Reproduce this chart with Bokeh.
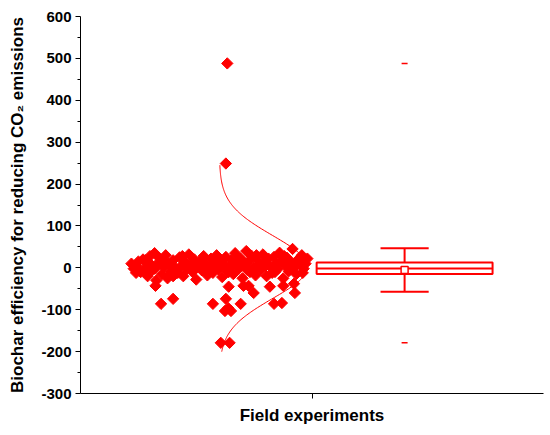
import numpy as np
from bokeh.plotting import figure
from bokeh.models import Range1d, FixedTicker
from bokeh.embed import file_html
from bokeh.resources import INLINE

categories = ["Field experiments"]
y_label = "Biochar efficiency for reducing CO\u2082 emissions"
y_ticks = [-300, -200, -100, 0, 100, 200, 300, 400, 500, 600]

# jittered data points (x = jitter position, y = efficiency %)
pts_x = [0.610, 0.615, 0.620, 0.625, 0.630, 0.635, 0.640, 0.645, 0.650, 0.652,
         0.656, 0.660, 0.664, 0.668, 0.672, 0.676, 0.680, 0.684, 0.688, 0.690,
         0.695, 0.700, 0.705, 0.710, 0.714, 0.718, 0.722, 0.726, 0.730, 0.734,
         0.738, 0.742, 0.746, 0.750, 0.754, 0.758, 0.762, 0.766, 0.770, 0.774,
         0.778, 0.782, 0.786, 0.790, 0.794, 0.798, 0.802, 0.806, 0.810, 0.814,
         0.818, 0.822, 0.826, 0.830, 0.834, 0.838, 0.842, 0.846, 0.850, 0.854,
         0.858, 0.862, 0.866, 0.870, 0.874, 0.878, 0.882, 0.886, 0.890, 0.894,
         0.898, 0.902, 0.906, 0.910, 0.914, 0.918, 0.922, 0.926, 0.930, 0.934,
         0.938, 0.942, 0.946, 0.950, 0.954, 0.958, 0.962, 0.966, 0.970, 0.974,
         0.978, 0.982, 0.986, 0.990,
         0.620, 0.640, 0.660, 0.680, 0.700, 0.720, 0.740, 0.760, 0.780, 0.800,
         0.820, 0.840, 0.860, 0.880, 0.900, 0.920, 0.940, 0.960, 0.980,
         0.674, 0.700, 0.786, 0.814, 0.819, 0.812, 0.825, 0.846, 0.820, 0.863,
         0.874, 0.909, 0.918, 0.935, 0.961, 0.963, 0.662, 0.852, 0.938,
         0.803, 0.822, 0.814, 0.817]
pts_y = [10, -2, 5, 15, -10, 20, 0, -20, 28, 8,
         -5, 35, -30, 12, 22, -15, 2, 30, -25, 10,
         -8, 18, 0, -12, 25, 5, -20, 12, -3, 32,
         8, -10, 20, -28, 3, 15, -6, 28, 10, -18,
         0, 22, -12, 6, 30, -4, 14, -22, 8, 26,
         -8, 2, 18, -15, 35, 10, -2, 22, -25, 5,
         40, 14, -10, 28, 0, -18, 18, 8, -5, 32,
         12, -20, 22, 3, -12, 26, 10, -3, 36, 16,
         -25, 6, 24, -8, 14, 45, 2, -15, 20, 8,
         30, -2, 10, 22,
         -12, 18, -2, 14, -20, 28, -2, 8, -8, 20,
         -10, 12, -5, 30, 5, -10, 28, 0, -12,
         -86, -74, -86, -74, -96, -103, -103, -86, -45, -43,
         -60, -45, -86, -84, -38, -60, -43, -43, -43,
         -179, -179, 249, 488]

# box chart statistics
box_pos = 1.2
box_halfwidth = 0.19
cap_halfwidth = 0.052
q1, median, q3 = -15, -1.5, 12.7
whisker_low, whisker_high = -57, 47
mean_val = -5
p1, p99 = -179, 488

# normal distribution curve parameters
curve_mean, curve_sd = 2, 75
curve_base, curve_amp = 0.80, 0.19
curve_lo, curve_hi = -200, 245

red = "#FF0000"
font = "Liberation Sans"

p = figure(width=545, height=427, output_backend="svg", toolbar_location=None,
           x_range=Range1d(0.5, 1.5), y_range=Range1d(-300, 600),
           min_border_left=80, min_border_right=2, min_border_top=16,
           min_border_bottom=34)
p.outline_line_color = None
p.xgrid.visible = False
p.ygrid.visible = False
p.background_fill_color = "white"
p.border_fill_color = "white"

# scatter points
p.scatter(pts_x, pts_y, marker="square", size=8, angle=np.pi / 4,
          fill_color=red, line_color=red)

# normal curve
cy = np.linspace(curve_lo, curve_hi, 200)
cx = curve_base + curve_amp * np.exp(-0.5 * ((cy - curve_mean) / curve_sd) ** 2)
p.line(cx, cy, line_color=red, line_width=1)

# box
p.quad(left=[box_pos - box_halfwidth], right=[box_pos + box_halfwidth],
       bottom=[q1], top=[q3], fill_color=None, line_color=red, line_width=2)
p.segment(x0=[box_pos - box_halfwidth], x1=[box_pos + box_halfwidth],
          y0=[median], y1=[median], line_color=red, line_width=2)
p.segment(x0=[box_pos, box_pos], x1=[box_pos, box_pos],
          y0=[q3, q1], y1=[whisker_high, whisker_low], line_color=red, line_width=2)
p.segment(x0=[box_pos - cap_halfwidth] * 2, x1=[box_pos + cap_halfwidth] * 2,
          y0=[whisker_high, whisker_low], y1=[whisker_high, whisker_low],
          line_color=red, line_width=2)
p.scatter([box_pos], [mean_val], marker="square", size=7, fill_color="white",
          line_color=red, line_width=1.5)
p.scatter([box_pos, box_pos], [p1, p99], marker="dash", size=6,
          line_color=red, line_width=1.5)

# axes
yax = p.yaxis[0]
yax.ticker = FixedTicker(ticks=y_ticks,
                         minor_ticks=[t + 50 for t in y_ticks[:-1]])
yax.major_label_overrides = {t: str(t) for t in y_ticks}
yax.major_tick_in = 0
yax.major_tick_out = 5
yax.minor_tick_in = 0
yax.minor_tick_out = 3
yax.major_label_text_font = font
yax.major_label_text_font_style = "bold"
yax.major_label_text_font_size = "15px"
yax.major_label_text_color = "black"
yax.major_label_standoff = 4
yax.axis_line_color = "black"
yax.axis_label = y_label
yax.axis_label_text_font = font
yax.axis_label_text_font_style = "bold"
yax.axis_label_text_font_size = "17px"
yax.axis_label_text_color = "black"
yax.axis_label_standoff = 11

xax = p.xaxis[0]
xax.ticker = FixedTicker(ticks=[1])
xax.major_label_overrides = {1: categories[0]}
xax.major_tick_in = 0
xax.major_tick_out = 5
xax.minor_tick_line_color = None
xax.major_label_text_font = font
xax.major_label_text_font_style = "bold"
xax.major_label_text_font_size = "17px"
xax.major_label_text_color = "black"
xax.major_label_standoff = 7
xax.axis_line_color = "black"

open("out.html", "w").write(file_html(p, INLINE))
